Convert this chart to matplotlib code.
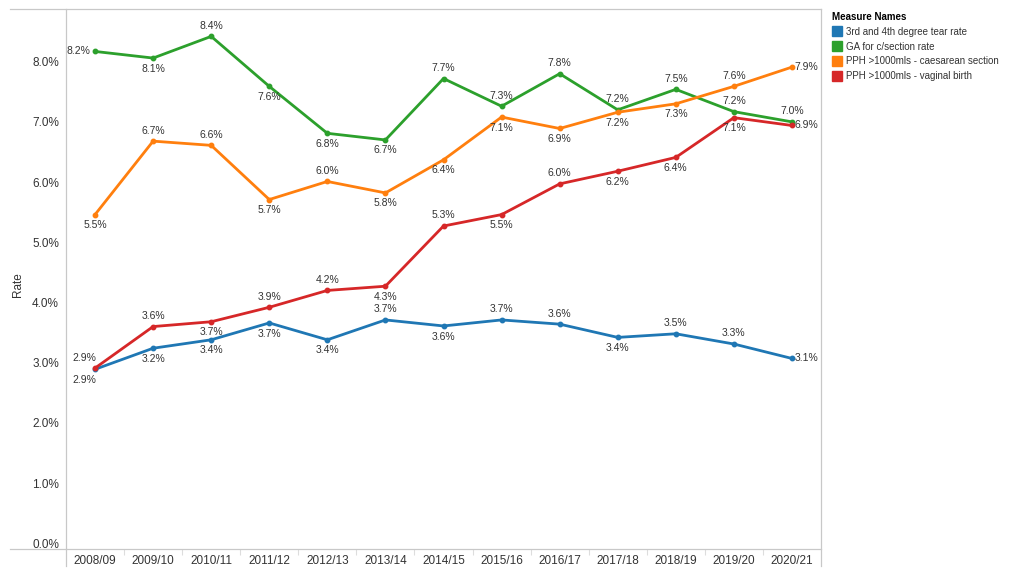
import matplotlib.pyplot as plt
from matplotlib.lines import Line2D
import numpy as np

plt.rcParams['font.family'] = ['Liberation Sans', 'DejaVu Sans']

# Data (rates in %)
years = ['2008/09', '2009/10', '2010/11', '2011/12', '2012/13', '2013/14', '2014/15',
         '2015/16', '2016/17', '2017/18', '2018/19', '2019/20', '2020/21']

tear_rate = [2.89, 3.24, 3.38, 3.66, 3.38, 3.71, 3.61, 3.71, 3.64, 3.42, 3.48, 3.31, 3.07]
ga_csection = [8.17, 8.06, 8.42, 7.59, 6.81, 6.70, 7.72, 7.26, 7.80, 7.20, 7.54, 7.17, 7.00]
pph_caesarean = [5.46, 6.68, 6.61, 5.71, 6.01, 5.82, 6.37, 7.08, 6.89, 7.16, 7.30, 7.59, 7.91]
pph_vaginal = [2.91, 3.60, 3.68, 3.92, 4.20, 4.27, 5.27, 5.46, 5.97, 6.18, 6.41, 7.07, 6.94]

names = ['3rd and 4th degree tear rate', 'GA for c/section rate',
         'PPH >1000mls - caesarean section', 'PPH >1000mls - vaginal birth']
colors = ['#1f77b4', '#2ca02c', '#ff7f0e', '#d62728']

# label placement per point: a=above, b=below, l=left, r=right, al/bl shifted left
label_pos = [
    ['bl', 'b', 'b', 'b', 'b', 'a', 'b', 'a', 'a', 'b', 'a', 'a', 'r'],
    ['l', 'b', 'a', 'b', 'b', 'b', 'a', 'a', 'a', 'a', 'a', 'a', 'a'],
    ['b', 'a', 'a', 'b', 'a', 'b', 'b', 'b', 'b', 'b', 'b', 'a', 'r'],
    ['al', 'a', 'b', 'a', 'a', 'b', 'a', 'b', 'a', 'b', 'b', 'b', 'r'],
]

series = [tear_rate, ga_csection, pph_caesarean, pph_vaginal]

fig = plt.figure(figsize=(10.24, 5.73), dpi=100)
ax = fig.add_axes([66 / 1024, 1 - 549 / 573, 755 / 1024, 540 / 573])

x = np.arange(len(years))
txt_color = '#333333'
for vals, col, pos in zip(series, colors, label_pos):
    ax.plot(x, vals, color=col, lw=2.0, marker='o', ms=3.2, zorder=3)
    for xi, v, p in zip(x, vals, pos):
        lab = f'{v:.1f}%'
        if p == 'a':
            off, ha, va = (0, 4), 'center', 'bottom'
        elif p == 'b':
            off, ha, va = (0, -4), 'center', 'top'
        elif p == 'al':
            off, ha, va = (-8, 4), 'center', 'bottom'
        elif p == 'bl':
            off, ha, va = (-8, -4), 'center', 'top'
        elif p == 'l':
            off, ha, va = (-3, 0), 'right', 'center'
        else:
            off, ha, va = (2, 0), 'left', 'center'
        ax.annotate(lab, (xi, v), xytext=off, textcoords='offset points',
                    ha=ha, va=va, fontsize=7.5, color=txt_color, zorder=4)

ax.set_xlim(-0.5, len(years) - 0.5)
ax.set_ylim(-0.095, 8.875)
ax.set_xticks(x)
ax.set_xticklabels(years)
ax.set_xticks(np.arange(0.5, len(years) - 1, 1), minor=True)
ax.set_yticks(np.arange(0, 9, 1))
ax.set_yticklabels([f'{t:.1f}%' for t in range(9)])
ax.tick_params(axis='x', which='major', length=0, pad=4, labelsize=8.5, labelcolor=txt_color)
ax.tick_params(axis='x', which='minor', length=4, color='#dddddd', width=0.8)
ax.tick_params(axis='y', length=0, pad=5, labelsize=8.5, labelcolor=txt_color)
ax.set_ylabel('Rate', fontsize=8.5, color=txt_color)
ax.yaxis.set_label_coords(-0.055, 0.49)

for s in ax.spines.values():
    s.set_visible(False)

# frame lines (Tableau style)
gc = '#c8c8c8'
fig.add_artist(Line2D([10 / 1024, 821 / 1024], [1 - 9 / 573] * 2, color=gc, lw=0.9))
fig.add_artist(Line2D([10 / 1024, 821 / 1024], [1 - 549 / 573] * 2, color=gc, lw=0.9))
fig.add_artist(Line2D([66 / 1024] * 2, [1 - 9 / 573, 1 - 566 / 573], color=gc, lw=0.9))
fig.add_artist(Line2D([821 / 1024] * 2, [1 - 9 / 573, 1 - 566 / 573], color=gc, lw=0.9))

# legend
handles = [Line2D([], [], marker='s', ls='', color=c, ms=7) for c in colors]
leg = fig.legend(handles, names, loc='upper left', bbox_to_anchor=(825 / 1024, 1 - 5 / 573),
                 frameon=False, fontsize=7, title='Measure Names', alignment='left',
                 title_fontproperties={'weight': 'bold', 'size': 7},
                 handletextpad=0.5, handlelength=1.0, labelspacing=0.5, borderpad=0.2)
for t in leg.get_texts():
    t.set_color(txt_color)

fig.savefig('out.png', dpi=100)
